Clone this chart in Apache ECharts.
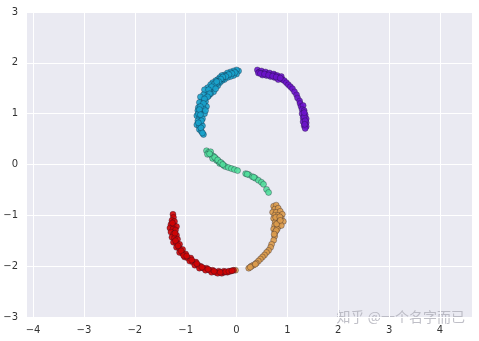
<!DOCTYPE html>
<html>
<head>
<meta charset="utf-8">
<script src="https://cdn.jsdelivr.net/npm/echarts@6/dist/echarts.min.js"></script>
<style>html,body{margin:0;padding:0;background:#fff}#c{width:479px;height:341px}</style>
</head>
<body>
<div id="c"></div>
<script>
const xTicks = [-4, -3, -2, -1, 0, 1, 2, 3, 4];
const yTicks = [-3, -2, -1, 0, 1, 2, 3];

const purplePts = [
[0.41,1.86],[0.45,1.82],[0.49,1.84],[0.53,1.80],[0.57,1.82],[0.61,1.78],[0.65,1.80],[0.69,1.76],
[0.73,1.78],[0.76,1.75],[0.80,1.75],[0.84,1.71],[0.88,1.73],[0.90,1.67],[0.43,1.80],[0.51,1.76],
[0.59,1.75],[0.67,1.73],[0.75,1.71],[0.82,1.67],[0.94,1.65],[0.98,1.61],[1.02,1.57],[1.06,1.53],
[1.10,1.49],[1.14,1.43],[1.18,1.37],[1.20,1.31],[1.24,1.25],[1.25,1.20],[1.27,1.14],[1.31,1.16],
[1.29,1.08],[1.33,1.06],[1.29,1.00],[1.35,0.98],[1.31,0.92],[1.37,0.90],[1.31,0.84],[1.37,0.82],
[1.33,0.76],[1.37,0.75],[1.35,0.71],[0.47,1.79],[0.55,1.78],[0.63,1.76],[0.71,1.74],[0.78,1.72],
[0.86,1.70],[1.33,0.94],[1.35,0.86],[1.33,1.02],[1.34,0.79]
];

const cyanPts = [
[0.04,1.84],[0.00,1.86],[0.00,1.78],[-0.06,1.84],[-0.06,1.75],[-0.12,1.82],[-0.12,1.73],[-0.18,1.80],
[-0.18,1.71],[-0.24,1.76],[-0.24,1.67],[-0.29,1.75],[-0.29,1.65],[-0.33,1.71],[-0.33,1.61],[-0.37,1.67],
[-0.37,1.55],[-0.41,1.65],[-0.43,1.53],[-0.47,1.61],[-0.47,1.49],[-0.45,1.43],[-0.51,1.57],[-0.53,1.45],
[-0.55,1.35],[-0.57,1.51],[-0.59,1.41],[-0.61,1.31],[-0.61,1.24],[-0.63,1.47],[-0.65,1.37],[-0.67,1.27],
[-0.69,1.18],[-0.71,1.33],[-0.73,1.22],[-0.75,1.12],[-0.59,1.14],[-0.76,1.06],[-0.69,1.04],[-0.63,1.00],
[-0.78,0.96],[-0.73,0.94],[-0.67,0.90],[-0.76,0.86],[-0.71,0.82],[-0.78,0.78],[-0.73,0.75],[-0.67,0.76],
[-0.73,0.69],[-0.69,0.65],[-0.65,0.59],[-0.75,1.00],[-0.65,1.10],[-0.51,1.39],[-0.20,1.75],[-0.27,1.69],
[-0.03,1.81],[-0.09,1.79],[-0.15,1.77],[-0.21,1.73],[-0.27,1.72],[-0.31,1.68],[-0.35,1.63],[-0.39,1.59],
[-0.43,1.59],[-0.49,1.53],[-0.55,1.47],[-0.53,1.39],[-0.57,1.33],[-0.63,1.29],[-0.65,1.20],[-0.71,1.14],
[-0.61,1.06],[-0.73,1.08],[-0.71,0.98],[-0.69,0.86],[-0.75,0.82],[-0.70,0.72],[-0.67,0.62],[-0.41,1.49],
[-0.39,1.63]
];

const greenPts = [
[-0.59,0.27],[-0.55,0.24],[-0.57,0.20],[-0.51,0.25],[-0.49,0.18],[-0.45,0.16],[-0.47,0.12],[-0.41,0.12],
[-0.39,0.08],[-0.35,0.06],[-0.33,0.02],[-0.29,0.02],[-0.25,-0.02],[-0.22,-0.04],[-0.16,-0.06],[-0.10,-0.08],
[-0.04,-0.10],[0.02,-0.12],[0.18,-0.18],[0.24,-0.20],[0.31,-0.24],[0.37,-0.27],[0.43,-0.31],[0.49,-0.35],
[0.53,-0.39],[0.59,-0.49],[0.63,-0.55],[-0.53,0.21],[-0.43,0.14],[-0.37,0.09],[-0.31,0.04],[-0.27,0.00],
[0.21,-0.19],[0.34,-0.25]
];

const orangePts = [
[0.73,-0.82],[0.78,-0.80],[0.75,-0.88],[0.82,-0.86],[0.71,-0.94],[0.78,-0.94],[0.86,-0.92],[0.75,-1.00],
[0.82,-1.00],[0.90,-0.98],[0.73,-1.06],[0.80,-1.08],[0.88,-1.06],[0.76,-1.14],[0.84,-1.14],[0.92,-1.12],
[0.75,-1.20],[0.82,-1.22],[0.88,-1.20],[0.73,-1.27],[0.80,-1.27],[0.76,-1.33],[0.75,-1.41],[0.73,-1.49],
[0.69,-1.57],[0.67,-1.63],[0.63,-1.69],[0.59,-1.73],[0.55,-1.78],[0.51,-1.82],[0.47,-1.86],[0.43,-1.90],
[0.39,-1.94],[0.33,-1.98],[0.29,-2.00],[0.24,-2.04],[0.27,-2.02],[0.37,-1.96],[-0.02,-2.08],
[0.77,-1.04],[0.85,-1.03],[0.79,-1.17],[0.86,-1.10],[0.78,-1.30],[0.74,-1.37]
];

const redPts = [
[-1.25,-0.98],[-1.24,-1.04],[-1.27,-1.10],[-1.22,-1.12],[-1.29,-1.18],[-1.24,-1.20],[-1.18,-1.22],[-1.31,-1.25],
[-1.25,-1.27],[-1.20,-1.29],[-1.29,-1.33],[-1.24,-1.37],[-1.18,-1.39],[-1.27,-1.43],[-1.22,-1.45],[-1.16,-1.47],
[-1.24,-1.53],[-1.18,-1.55],[-1.12,-1.57],[-1.18,-1.63],[-1.12,-1.65],[-1.06,-1.67],[-1.12,-1.73],[-1.06,-1.75],
[-1.00,-1.76],[-1.02,-1.82],[-0.96,-1.84],[-0.90,-1.84],[-0.92,-1.90],[-0.86,-1.92],[-0.80,-1.92],[-0.82,-1.98],
[-0.76,-1.98],[-0.71,-2.00],[-0.73,-2.04],[-0.65,-2.04],[-0.59,-2.04],[-0.61,-2.08],[-0.53,-2.08],[-0.47,-2.08],
[-0.49,-2.12],[-0.41,-2.12],[-0.35,-2.10],[-0.37,-2.14],[-0.29,-2.14],[-0.24,-2.12],[-0.25,-2.10],[-0.18,-2.12],
[-0.12,-2.10],[-0.06,-2.08],[-1.26,-1.15],[-1.21,-1.35],[-1.20,-1.50],[-1.15,-1.60],[-1.09,-1.70],[-1.04,-1.79],
[-0.98,-1.80],[-0.88,-1.88],[-0.78,-1.95],[-0.68,-2.02],[-0.56,-2.06],[-0.44,-2.10],[-0.32,-2.12],[-0.21,-2.11],
[-0.15,-2.10],[-0.09,-2.09]
];

const clusters = [
  {name: 'purple', pts: purplePts, color: '#6e14cc'},
  {name: 'cyan', pts: cyanPts, color: '#1aa3cc'},
  {name: 'green', pts: greenPts, color: '#52de9c'},
  {name: 'orange', pts: orangePts, color: '#dd9c4c'},
  {name: 'red', pts: redPts, color: '#d00404'}
];

const fmt = v => (v < 0 ? '\u2212' + Math.abs(v) : String(v));
const chart = echarts.init(document.getElementById('c'), null, {renderer: 'canvas'});
chart.setOption({
  animation: false,
  backgroundColor: '#ffffff',
  grid: {left: 27, right: 7, top: 12, bottom: 24, show: true, backgroundColor: '#eaeaf2', borderWidth: 0},
  xAxis: {
    type: 'value', min: -4.12, max: 4.63,
    axisLine: {show: false},
    axisTick: {show: false, customValues: xTicks},
    axisLabel: {customValues: xTicks, formatter: fmt, color: '#333', fontSize: 10, fontFamily: 'DejaVu Sans', margin: 8},
    splitLine: {show: true, lineStyle: {color: '#ffffff', width: 1}}
  },
  yAxis: {
    type: 'value', min: -3, max: 3, interval: 1,
    axisLine: {show: false},
    axisTick: {show: false},
    axisLabel: {formatter: fmt, color: '#333', fontSize: 10, fontFamily: 'DejaVu Sans', margin: 9},
    splitLine: {show: true, lineStyle: {color: '#ffffff', width: 1}}
  },
  series: clusters.map(c => ({
    type: 'scatter', name: c.name, data: c.pts, symbolSize: 6,
    itemStyle: {color: c.color, borderColor: 'rgba(20,20,40,0.6)', borderWidth: 0.6, opacity: 0.9}
  })),
  graphic: [{
    type: 'text', right: 14, top: 310,
    style: {text: '知乎 @一个名字而已', font: '14px "Noto Sans CJK SC"', fill: 'rgba(175,175,185,0.8)'}
  }]
});
</script>
</body>
</html>
